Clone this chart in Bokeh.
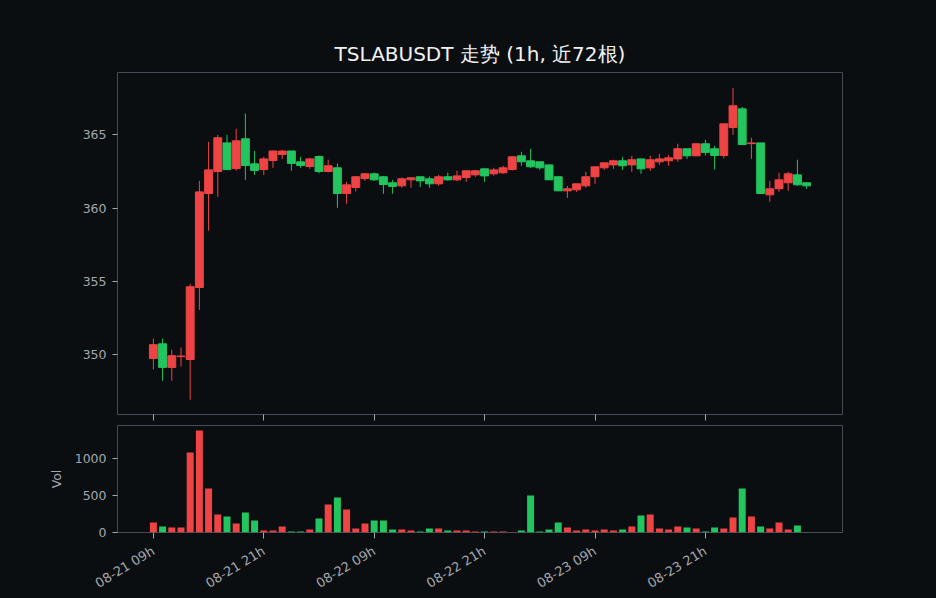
import math
from bokeh.plotting import figure
from bokeh.layouts import column
from bokeh.models import ColumnDataSource, FixedTicker, Range1d, GlobalInlineStyleSheet
from bokeh.embed import file_html
from bokeh.resources import INLINE

# ---------------- data ----------------
title_text = "TSLABUSDT 走势 (1h, 近72根)"
tick_index = [0, 12, 24, 36, 48, 60]
tick_labels = ["08-21 09h", "08-21 21h", "08-22 09h", "08-22 21h", "08-23 09h", "08-23 21h"]

opens = [349.75, 350.75, 349.14, 349.88, 349.68, 354.59, 361.00, 362.50, 364.45, 362.70,
         364.73, 363.02, 362.63, 363.25, 363.66, 363.90, 363.16, 362.84, 363.52, 362.50,
         362.75, 361.00, 361.41, 362.02, 362.34, 362.14, 361.73, 361.52, 361.93, 362.14,
         362.00, 361.66, 362.14, 361.93, 362.09, 362.27, 362.68, 362.34, 362.41, 362.63,
         363.57, 363.23, 363.16, 362.95, 362.14, 361.18, 361.25, 361.52, 362.14, 362.75,
         362.95, 363.23, 362.95, 363.36, 362.75, 363.16, 363.23, 363.36, 364.05, 363.57,
         364.39, 364.05, 363.59, 365.50, 366.77, 364.40, 364.45, 360.91, 361.32, 361.73,
         362.27, 361.73]
highs = [351.10, 351.10, 350.34, 350.50, 354.84, 361.86, 364.52, 365.00, 365.00, 365.41,
         366.45, 363.90, 363.50, 363.90, 363.98, 363.90, 363.50, 363.43, 363.59, 363.30,
         363.04, 361.80, 362.20, 362.41, 362.43, 362.20, 361.93, 362.09, 362.09, 362.14,
         362.16, 362.27, 362.43, 362.55, 362.55, 362.61, 362.68, 362.75, 362.89, 363.55,
         363.84, 364.05, 363.16, 362.95, 362.20, 361.52, 361.66, 362.48, 362.82, 363.09,
         363.30, 363.50, 363.57, 363.36, 363.57, 363.70, 363.64, 364.39, 364.05, 364.39,
         364.66, 364.25, 365.75, 368.20, 366.90, 364.80, 364.45, 361.86, 362.41, 362.48,
         363.30, 361.73]
lows = [349.00, 348.23, 348.23, 349.20, 346.94, 353.07, 358.46, 360.77, 362.60, 362.55,
        361.93, 362.27, 362.27, 362.75, 363.36, 362.55, 362.75, 362.68, 362.37, 362.44,
        360.02, 360.30, 361.14, 361.86, 361.86, 360.98, 360.98, 361.39, 361.39, 361.45,
        361.39, 361.52, 361.86, 361.86, 361.80, 362.14, 361.80, 362.20, 362.34, 362.58,
        362.89, 362.75, 362.61, 361.93, 361.18, 360.70, 361.11, 361.39, 361.66, 362.61,
        362.68, 362.61, 362.48, 362.34, 362.55, 362.95, 362.89, 363.16, 363.36, 363.57,
        363.59, 362.64, 363.39, 365.00, 364.34, 363.36, 361.00, 360.43, 361.11, 361.18,
        361.52, 361.32]
closes = [350.69, 349.14, 349.94, 349.92, 354.64, 361.11, 362.61, 364.80, 362.63, 364.59,
          362.91, 362.57, 363.36, 363.90, 363.89, 363.05, 362.91, 363.36, 362.50, 362.89,
          361.00, 361.59, 362.14, 362.34, 361.93, 361.61, 361.48, 362.00, 362.07, 361.86,
          361.66, 362.14, 361.93, 362.20, 362.55, 362.55, 362.20, 362.61, 362.75, 363.50,
          363.16, 362.82, 362.75, 361.93, 361.18, 361.32, 361.66, 362.14, 362.82, 363.09,
          363.23, 362.89, 363.30, 362.68, 363.30, 363.36, 363.43, 364.05, 363.57, 364.39,
          363.80, 363.59, 365.75, 366.98, 364.34, 364.45, 361.00, 361.32, 361.93, 362.34,
          361.59, 361.52]
volumes = [135, 81, 68, 68, 1081, 1378, 594, 243, 216, 122,
           270, 162, 27, 27, 81, 14, 14, 41, 189, 378,
           473, 311, 54, 122, 162, 162, 41, 41, 27, 14,
           54, 54, 27, 27, 27, 14, 14, 14, 14, 5,
           27, 500, 14, 41, 135, 68, 27, 41, 27, 41,
           27, 41, 81, 230, 243, 54, 41, 81, 68, 54,
           14, 68, 54, 203, 594, 216, 81, 54, 135, 41,
           95, 4]

# ---------------- style ----------------
BG = "#0b0e11"
FRAME = "#464b57"
TXT = "#a3a7ad"
UP = "#ef4444"
DOWN = "#22c55e"
FONT = "DejaVu Sans"

idx = list(range(len(opens)))
colors = [UP if c >= o else DOWN for o, c in zip(opens, closes)]
src = ColumnDataSource(dict(
    x=idx, open=opens, high=highs, low=lows, close=closes,
    top=[max(o, c) for o, c in zip(opens, closes)],
    bottom=[min(o, c) for o, c in zip(opens, closes)],
    vol=volumes, color=colors,
))

xr = Range1d(-3.9, 74.9)

def style_axes(fig):
    fig.grid.visible = False
    for ax in (fig.xaxis[0], fig.yaxis[0]):
        ax.axis_line_color = None
        ax.major_tick_line_color = TXT
        ax.minor_tick_line_color = None
        ax.major_tick_in = 0
        ax.major_label_text_color = TXT
        ax.major_label_text_font = FONT
        ax.major_label_text_font_size = "12.5px"
    fig.yaxis[0].major_tick_out = 5
    fig.yaxis[0].major_label_standoff = 6
    fig.xaxis[0].major_tick_out = 6

p1 = figure(frame_width=725, frame_height=342, x_range=xr, y_range=Range1d(345.93, 369.25),
            output_backend="svg", toolbar_location=None,
            min_border_left=117, min_border_right=94, min_border_top=72, min_border_bottom=11,
            background_fill_color=BG, border_fill_color=BG, outline_line_color=FRAME)
p1.title.text = title_text
p1.title.align = "center"
p1.title.text_font = FONT
p1.title.text_font_size = "20px"
p1.title.text_font_style = "normal"
p1.title.text_color = "#f2f2f2"
p1.title.standoff = 13
style_axes(p1)
p1.yaxis[0].ticker = FixedTicker(ticks=[350, 355, 360, 365])
p1.xaxis[0].ticker = FixedTicker(ticks=tick_index)
p1.xaxis[0].major_label_overrides = {i: "" for i in tick_index}
p1.xaxis[0].major_label_standoff = 0

p1.segment(x0="x", y0="low", x1="x", y1="high", color="color", line_width=1, source=src)
p1.vbar(x="x", top="top", bottom="bottom", width=0.86, fill_color="color",
        line_color="color", line_width=1, source=src)

p2 = figure(frame_width=725, frame_height=107, x_range=xr, y_range=Range1d(0, 1446),
            output_backend="svg", toolbar_location=None,
            min_border_left=117, min_border_right=94, min_border_top=0, min_border_bottom=66,
            background_fill_color=BG, border_fill_color=BG, outline_line_color=FRAME)
style_axes(p2)
p2.yaxis[0].ticker = FixedTicker(ticks=[0, 500, 1000])
p2.yaxis[0].axis_label = "Vol"
p2.yaxis[0].axis_label_text_color = TXT
p2.yaxis[0].axis_label_text_font = FONT
p2.yaxis[0].axis_label_text_font_size = "12.5px"
p2.yaxis[0].axis_label_text_font_style = "normal"
p2.yaxis[0].axis_label_standoff = 8
p2.xaxis[0].ticker = FixedTicker(ticks=tick_index)
p2.xaxis[0].major_label_overrides = {i: t for i, t in zip(tick_index, tick_labels)}
p2.xaxis[0].major_label_text_font_size = "13px"
p2.xaxis[0].major_label_orientation = 0.55
p2.xaxis[0].major_label_standoff = 11

p2.vbar(x="x", top="vol", bottom=0, width=0.76, fill_color="color", line_color=None, source=src)

layout = column(p1, p2, spacing=0)
layout.stylesheets = [GlobalInlineStyleSheet(css="html, body { background-color: #0b0e11; }")]

open("out.html", "w").write(file_html(layout, INLINE))
